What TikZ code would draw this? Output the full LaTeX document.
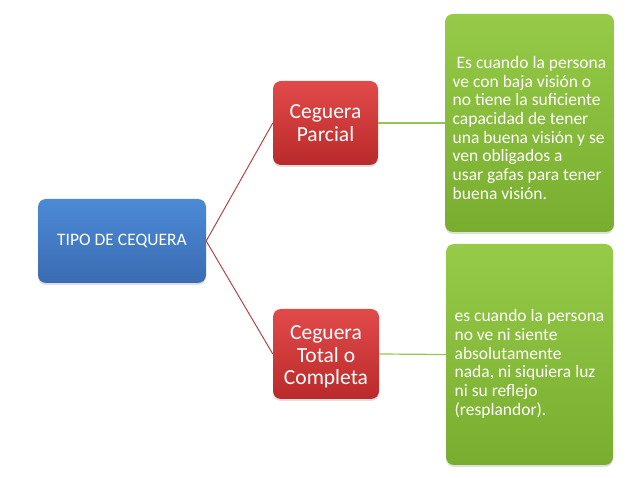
\documentclass[tikz,border=0pt]{standalone}
\usepackage{fontspec}
\setmainfont{Carlito}
\usetikzlibrary{shadows}

\definecolor{topblue}{HTML}{4C8AD6}
\definecolor{botblue}{HTML}{3A6CB2}
\definecolor{topred}{HTML}{E24A4A}
\definecolor{botred}{HTML}{BA2A2A}
\definecolor{topgreen}{HTML}{96CA48}
\definecolor{botgreen}{HTML}{78AD2F}
\definecolor{redline}{HTML}{B94444}
\definecolor{greenline}{HTML}{94C452}

\begin{document}
\begin{tikzpicture}[x=1pt,y=-1pt]
    \tikzstyle{box}=[rounded corners=8pt,text=white,inner sep=5pt,drop shadow={opacity=0.25,shadow xshift=0pt,shadow yshift=-2pt}]
    \tikzstyle{blue box}=[box,top color=topblue,bottom color=botblue,font=\fontsize{17.5}{21}\selectfont]
    \tikzstyle{red box}=[box,top color=topred,bottom color=botred,align=center,font=\fontsize{21.5}{22.7}\selectfont]
    \tikzstyle{green box}=[box,top color=topgreen,bottom color=botgreen,align=left,font=\fontsize{17.5}{18.7}\selectfont]
    \useasboundingbox (0,0) rectangle (638,478);
    \node (tipo)[blue box,minimum width=168pt,minimum height=84pt] at (122,241) {TIPO DE CEQUERA};
    \node (parcial)[red box,minimum width=105pt,minimum height=84pt] at (325.5,123) {Ceguera\\Parcial};
    \node (total)[red box,minimum width=106pt,minimum height=90pt] at (326,354) {\rule{0pt}{20pt}Ceguera\\Total o\\Completa};
    \node (defparcial)[green box,minimum width=169pt,minimum height=218pt] at (529.5,123)
        {\rule{0pt}{22pt}\ Es cuando la persona\\ve con baja visión o\\no tiene la suficiente\\capacidad de tener\\una buena visión y se\\ven obligados a\\usar gafas para tener\\buena visión.};
    \node (deftotal)[green box,minimum width=167pt,minimum height=221pt] at (529.5,354.5)
        {\rule{0pt}{31pt}es cuando la persona\\no ve ni siente\\absolutamente\\nada, ni siquiera luz\\ni su reflejo\\(resplandor).};
    \path[draw=redline,line width=1pt] (tipo.east) edge (parcial.west);
    \path[draw=redline,line width=1pt] (tipo.east) edge (total.west);
    \path[draw=greenline,line width=1.2pt] (parcial.east) edge (defparcial.west);
    \path[draw=greenline,line width=1.2pt] (total.east) edge (deftotal.west);
\end{tikzpicture}
\end{document}
